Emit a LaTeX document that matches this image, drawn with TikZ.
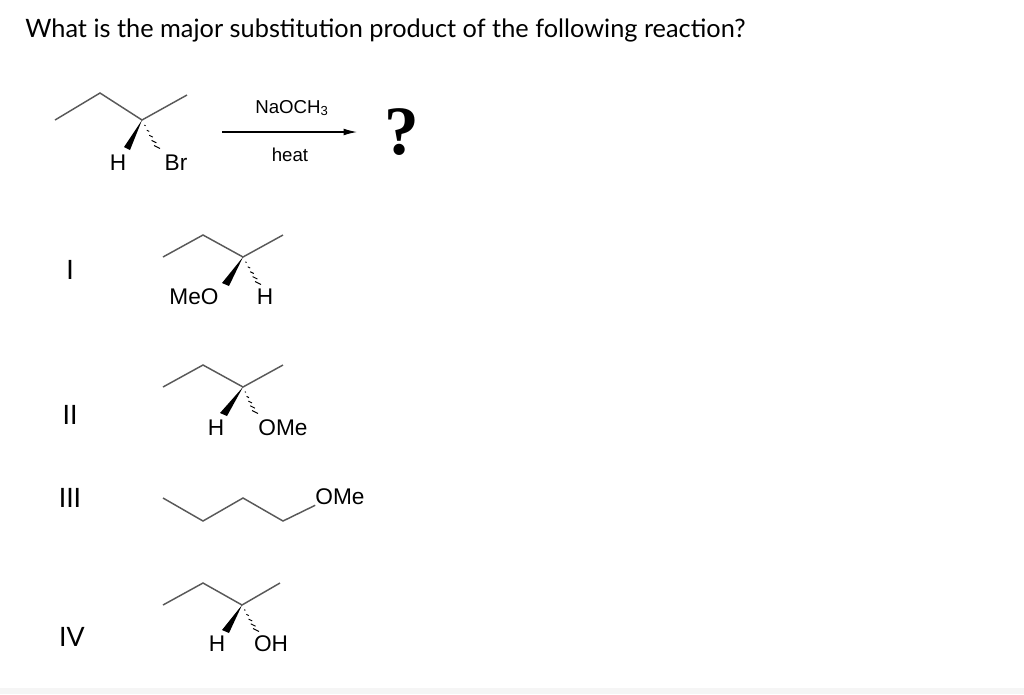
\documentclass[tikz,border=0pt]{standalone}
\usepackage{fontspec}
\setmainfont{Liberation Sans}
\newfontfamily\latofont{Lato}
\newfontfamily\seriffont{Liberation Serif}
\usetikzlibrary{arrows.meta,calc}
\begin{document}
\begin{tikzpicture}[x=0.75pt,y=-0.75pt,
  bond/.style={draw=gray!70!black,line width=1.1pt},
  lbl/.style={font=\fontsize{17}{20}\selectfont,inner sep=0pt},
  roman/.style={font=\latofont\fontsize{20}{24}\selectfont,inner sep=0pt}]
\useasboundingbox (0,0) rectangle (1024,694);
\fill[gray!8] (0,688) rectangle (1024,694);
\node[anchor=west,inner sep=0pt,font=\latofont\fontsize{19}{23}\selectfont] (q) at (25,30) {What is the major substitution product of the following reaction?};
% starting material
\coordinate (s1) at (55,120); \coordinate (s2) at (100,93); \coordinate (s3) at (142,120); \coordinate (s4) at (187,95);
\draw[bond] (s1)--(s2)--(s3)--(s4);
\fill (s3) -- (124,147) -- (130,150) -- cycle;
\foreach \t in {0.2,0.4,0.6,0.8,1.0}{\draw[line width=0.7pt] ($(s3)!\t!(157,147)+(-3*\t,-1.5*\t)$) -- ($(s3)!\t!(157,147)+(3*\t,1.5*\t)$);}
\node[lbl] (h0) at (118,163) {H};
\node[lbl] (br) at (176,163) {Br};
% arrow
\coordinate (a1) at (222,132); \coordinate (a2) at (357,132);
\draw[line width=0.8pt,-{Latex[length=10pt,width=5pt]}] (a1)--(a2);
\node[font=\fontsize{14}{16}\selectfont] (r1) at (292,108) {NaOCH\textsubscript{3}};
\node[font=\fontsize{14}{16}\selectfont] (r2) at (290,155) {heat};
\node[font=\seriffont\bfseries\fontsize{52}{54}\selectfont,inner sep=0pt] (qm) at (402,132) {?};
% I
\node[roman] (n1) at (70,270) {I};
\draw[bond] (163,257)--(203,235)--(243,257)--(283,235);
\fill (243,257) -- (222,283) -- (229,286) -- cycle;
\foreach \t in {0.2,0.4,0.6,0.8,1.0}{\draw[line width=0.7pt] ($(243,257)!\t!(258,283)+(-3*\t,-1.5*\t)$) -- ($(243,257)!\t!(258,283)+(3*\t,1.5*\t)$);}
\node[lbl] (m1) at (194,297) {MeO};
\node[lbl] (h1) at (265,297) {H};
% II
\node[roman] (n2) at (70,415) {II};
\draw[bond] (163,387)--(203,365)--(243,387)--(283,365);
\fill (243,387) -- (220,413) -- (227,416) -- cycle;
\foreach \t in {0.2,0.4,0.6,0.8,1.0}{\draw[line width=0.7pt] ($(243,387)!\t!(255,412)+(-3*\t,-1.5*\t)$) -- ($(243,387)!\t!(255,412)+(3*\t,1.5*\t)$);}
\node[lbl] (h2) at (216,428) {H};
\node[lbl] (m2) at (283,428) {OMe};
% III
\node[roman] (n3) at (70,498) {III};
\node[lbl] (m3) at (340,497) {OMe};
\draw[bond] (163,498)--(203,521)--(243,498)--(283,521)--(m3.south west);
% IV
\node[roman] (n4) at (72,637) {IV};
\draw[bond] (163,605)--(203,583)--(242,605)--(280,583);
\fill (242,605) -- (222,630) -- (229,633) -- cycle;
\foreach \t in {0.2,0.4,0.6,0.8,1.0}{\draw[line width=0.7pt] ($(242,605)!\t!(256,630)+(-3*\t,-1.5*\t)$) -- ($(242,605)!\t!(256,630)+(3*\t,1.5*\t)$);}
\node[lbl] (h4) at (217,644) {H};
\node[lbl] (o4) at (271,644) {OH};
\end{tikzpicture}
\end{document}
